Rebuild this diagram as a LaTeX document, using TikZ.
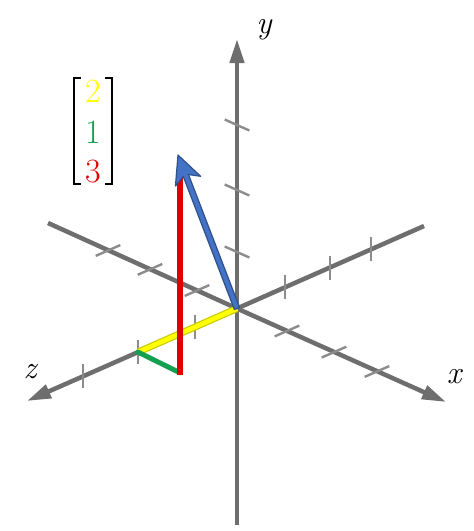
\documentclass[tikz,border=0pt]{standalone}
\usepackage{fontspec}
\usetikzlibrary{arrows.meta,calc}
\definecolor{axisgray}{HTML}{6E6E6E}
\definecolor{tickgray}{HTML}{8C8C8C}
\definecolor{yel}{HTML}{FFFF00}
\definecolor{yeldark}{HTML}{C9C900}
\definecolor{grn}{HTML}{13A050}
\definecolor{redv}{HTML}{E00000}
\definecolor{bluev}{HTML}{4472C4}
\definecolor{bluedark}{HTML}{2F528F}
\begin{document}
\begin{tikzpicture}[x=1pt,y=-1pt,
  axis/.style={draw=axisgray,line width=4.5pt},
  axisarrow/.style={axis,-{Triangle[length=24pt,width=14pt]}},
  tickmark/.style={draw=tickgray,line width=2.4pt},
  lbl/.style={inner sep=0pt,font=\fontsize{32}{32}\selectfont\itshape},
  digit/.style={inner sep=0pt,font=\fontsize{34}{34}\selectfont},
  bracket/.style={draw=black,line width=2.8pt}]
\useasboundingbox (0,0) rectangle (474,531);
% axis end points
\coordinate (O) at (237,308.5);
\coordinate (Ytop) at (237,39);
\coordinate (Ybot) at (237,525);
\coordinate (Xneg) at (48,223);
\coordinate (Xpos) at (446,402);
\coordinate (Zneg) at (424,226);
\coordinate (Zpos) at (27,401);
% axes
\draw[axis] (Ybot) -- (O);
\draw[axisarrow] (O) -- (Ytop);
\draw[axis] (Xneg) -- (O);
\draw[axisarrow] (O) -- (Xpos);
\draw[axis] (Zneg) -- (O);
\draw[axisarrow] (O) -- (Zpos);
% ticks on y (parallel to x axis)
\foreach \yy in {252,190,125}
  \draw[tickmark] (237-12.3,\yy-5.5) -- (237+12.3,\yy+5.5);
% ticks on x (parallel to z axis)
\foreach \xx in {287,334,377,197,150,108}
  \draw[tickmark] ({\xx-12.3},{308.5+(\xx-237)*0.4497+5.4}) -- ({\xx+12.3},{308.5+(\xx-237)*0.4497-5.4});
% ticks on z (vertical)
\foreach \zz in {195,138,83,285,330,371}
  \draw[tickmark] (\zz,{308.5-(\zz-237)*0.4408-12}) -- (\zz,{308.5-(\zz-237)*0.4408+12});
% labels
\node[lbl] (ly) at (264,30) {y};
\node[lbl] (lz) at (30,372) {z};
\node[lbl] (lx) at (454,377) {x};
% components
\coordinate (Z2) at (138,352.1);
\coordinate (P) at (180,372.8);
\coordinate (R) at (180,172);
\coordinate (T) at (178,155);
\draw[draw=yeldark,line width=7pt] (O) -- (Z2);
\draw[draw=yel,line width=4.6pt] (O) -- (Z2);
\draw[draw=grn,line width=5pt,line cap=round] (Z2) -- (P);
\draw[draw=redv,line width=5.5pt] ($(P)+(0,2)$) -- (R);
% blue vector arrow
\coordinate (B) at ($(T)!22pt!(O)$);
\coordinate (W) at ($(T)!28pt!(O)$);
\filldraw[fill=bluev,draw=bluedark,line width=1.2pt,line join=round]
  ($(O)!2.8pt!90:(T)$) -- ($(B)!2.8pt!90:(T)$) -- ($(W)!13.5pt!90:(T)$) -- (T)
  -- ($(W)!13.5pt!-90:(T)$) -- ($(B)!2.8pt!-90:(T)$) -- ($(O)!2.8pt!-90:(T)$) -- cycle;
% column vector
\draw[bracket] (81,78) -- (74,78) -- (74,184) -- (81,184);
\draw[bracket] (105,78) -- (112,78) -- (112,184) -- (105,184);
\node[digit,text=yel] (d2) at (93,91) {2};
\node[digit,text=grn] (d1) at (93,132) {1};
\node[digit,text=redv] (d3) at (93,172) {3};
\end{tikzpicture}
\end{document}
